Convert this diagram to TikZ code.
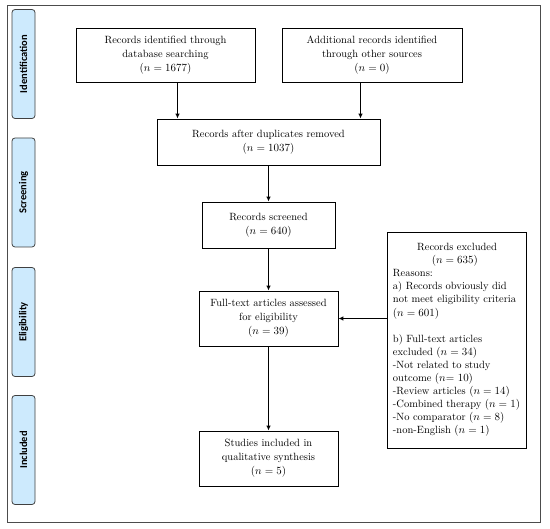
\documentclass[tikz,border=0pt]{standalone}
\usepackage{fontspec}
\usepackage{amsmath}
\usetikzlibrary{arrows.meta}
\newfontfamily\phasefont{Carlito}

\definecolor{phasefill}{HTML}{CDEAFD}
\tikzset{
	box/.style={draw=black, line width=0.8pt, align=center, inner sep=2pt,
		font=\fontsize{10.5}{14}\selectfont},
	phase/.style={draw=black!75, fill=phasefill, rounded corners=3pt,
		line width=0.8pt, minimum width=23pt, minimum height=109pt,
		font=\phasefont\bfseries\fontsize{10.5}{12}\selectfont},
	flow/.style={-{Latex[length=5pt,width=4.5pt]}, line width=1.2pt}
}

\begin{document}
	\begin{tikzpicture}[x=1pt, y=-1pt]
		\useasboundingbox (0,0) rectangle (550,529);
		\draw[black!70, line width=0.8pt] (7,5) rectangle (540,522);
		
		% phases
		\node[phase] (ident) at (23.5,64) {\rotatebox{90}{Identification}};
		\node[phase] (screen) at (23.5,192.5) {\rotatebox{90}{Screening}};
		\node[phase] (elig) at (23.5,322) {\rotatebox{90}{Eligibility}};
		\node[phase] (incl) at (23.5,450) {\rotatebox{90}{Included}};
		
		% boxes
		\node[box, minimum width=179pt, minimum height=54pt] (db) at (165.5,55)
			{Records identified through\\database searching\\$(n = 1677)$};
		\node[box, minimum width=180pt, minimum height=54pt] (other) at (372,55)
			{Additional records identified\\through other sources\\$(n = 0)$};
		\node[box, minimum width=223pt, minimum height=46pt] (dup) at (268.5,142)
			{Records after duplicates removed\\$(n = 1037)$};
		\node[box, minimum width=133pt, minimum height=46pt] (scr) at (268.5,225)
			{Records screened\\$(n = 640)$};
		\node[box, minimum width=139pt, minimum height=55pt] (full) at (268.5,318.5)
			{Full-text articles assessed\\for eligibility\\$(n = 39)$};
		\node[box, minimum width=139pt, minimum height=55pt] (qual) at (268.5,458.5)
			{Studies included in\\qualitative synthesis\\$(n = 5)$};
		\node[box, minimum width=139pt, minimum height=216pt, align=left, inner sep=3pt,
			font=\fontsize{10.5}{13.1}\selectfont] (excl) at (456.5,340)
			{\hspace*{2.3em}Records excluded\\
			\hspace*{3.7em}$(n = 635)$\\
			Reasons:\\
			a) Records obviously did\\
			not meet eligibility criteria\\
			$(n = 601)$\\[13.1pt]
			b) Full-text articles\\
			excluded $(n = 34)$\\
			-Not related to study\\
			outcome $(n{=}\ 10)$\\
			-Review articles $(n = 14)$\\
			-Combined therapy $(n = 1)$\\
			-No comparator $(n = 8)$\\
			-non-English $(n = 1)$};
		
		% arrows
		\draw[flow] ([xshift=12pt]db.south) -- ([xshift=12pt]db.south |- dup.north);
		\draw[flow] ([xshift=-11.5pt]other.south) -- ([xshift=-11.5pt]other.south |- dup.north);
		\draw[flow] (dup) -- (scr);
		\draw[flow] (scr) -- (full);
		\draw[flow] (full) -- (qual);
		\draw[flow] (excl.west |- full) -- (full.east);
	\end{tikzpicture}
\end{document}
